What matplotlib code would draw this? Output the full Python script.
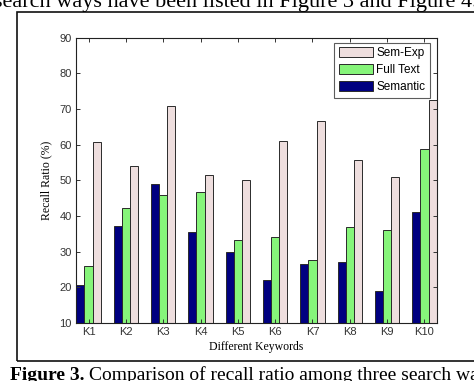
import matplotlib
matplotlib.use("Agg")
import matplotlib.pyplot as plt
from matplotlib.patches import Rectangle
import numpy as np

keywords = ["K1", "K2", "K3", "K4", "K5", "K6", "K7", "K8", "K9", "K10"]
semantic = [20.6, 37.1, 49.0, 35.5, 30.0, 22.1, 26.4, 27.2, 19.0, 41.1]
full_text = [25.9, 42.2, 46.0, 46.7, 33.3, 34.0, 27.7, 36.8, 36.1, 58.7]
sem_exp = [60.7, 54.1, 70.7, 51.5, 50.0, 61.0, 66.6, 55.7, 51.0, 72.4]
yticks = [10, 20, 30, 40, 50, 60, 70, 80, 90]

W, H = 474, 381
fig = plt.figure(figsize=(W / 100, H / 100), dpi=100)
fig.patch.set_facecolor("white")

def fx(px):
    return px / W

def fy(py):
    return 1 - py / H

ax = fig.add_axes([fx(76), fy(323), fx(437) - fx(76), fy(37.5) - fy(323)])

x = np.arange(1, len(keywords) + 1)
bw = 0.22
c_sem = "#000080"
c_full = "#86f57a"
c_exp = "#eedede"
ec = "#2a2a2a"
b1 = ax.bar(x - bw, semantic, bw, color=c_sem, edgecolor=ec, linewidth=0.7, label="Semantic")
b2 = ax.bar(x, full_text, bw, color=c_full, edgecolor=ec, linewidth=0.7, label="Full Text")
b3 = ax.bar(x + bw, sem_exp, bw, color=c_exp, edgecolor=ec, linewidth=0.7, label="Sem-Exp")

ax.set_xlim(0.665, 10.335)
ax.set_ylim(10, 90)
ax.set_yticks(yticks)
ax.set_xticks(x)
ax.set_xticklabels(keywords)
for lab in ax.get_xticklabels() + ax.get_yticklabels():
    lab.set_fontfamily("Liberation Sans")
    lab.set_fontsize(8)
    lab.set_color("#333333")
ax.tick_params(direction="in", length=3, width=0.7, top=True, right=True,
               colors="#333333", pad=3)
for s in ax.spines.values():
    s.set_linewidth(0.8)
    s.set_color("#222222")

ax.set_ylabel("Recall Ratio (%)", family="Liberation Serif", fontsize=8.5, labelpad=5)
ax.set_xlabel("Different Keywords", family="Liberation Serif", fontsize=8.5, labelpad=3)

leg = ax.legend([b3, b2, b1], ["Sem-Exp", "Full Text", "Semantic"],
                loc="upper right", bbox_to_anchor=(1 - 7 / 361, 1 - 5 / 285.5),
                borderaxespad=0, fancybox=False, frameon=True,
                prop=dict(family="Liberation Sans", size=8.5),
                handlelength=2.9, handleheight=0.95, handletextpad=0.3,
                labelspacing=0.4, borderpad=0.4)
leg.get_frame().set_edgecolor("#333333")
leg.get_frame().set_linewidth(0.8)

# page frame around figure
fig.patches.append(Rectangle((fx(17), fy(361)), fx(490) - fx(17), fy(12) - fy(361),
                             transform=fig.transFigure, fill=False,
                             edgecolor="#111111", linewidth=1.2))

# surrounding page text (partially cut off, as in the page scan)
fig.text(fx(-6), fy(7), "search ways have been listed in Figure 3 and Figure 4.",
         family="Liberation Serif", fontsize=16, va="baseline", ha="left")
fig.text(fx(10), fy(380), "Figure 3.", family="Liberation Serif",
         fontsize=14, weight="bold", va="baseline", ha="left")
fig.text(fx(89), fy(380), "Comparison of recall ratio among three search ways",
         family="Liberation Serif", fontsize=14, va="baseline", ha="left")

fig.savefig("out.png", dpi=100)
